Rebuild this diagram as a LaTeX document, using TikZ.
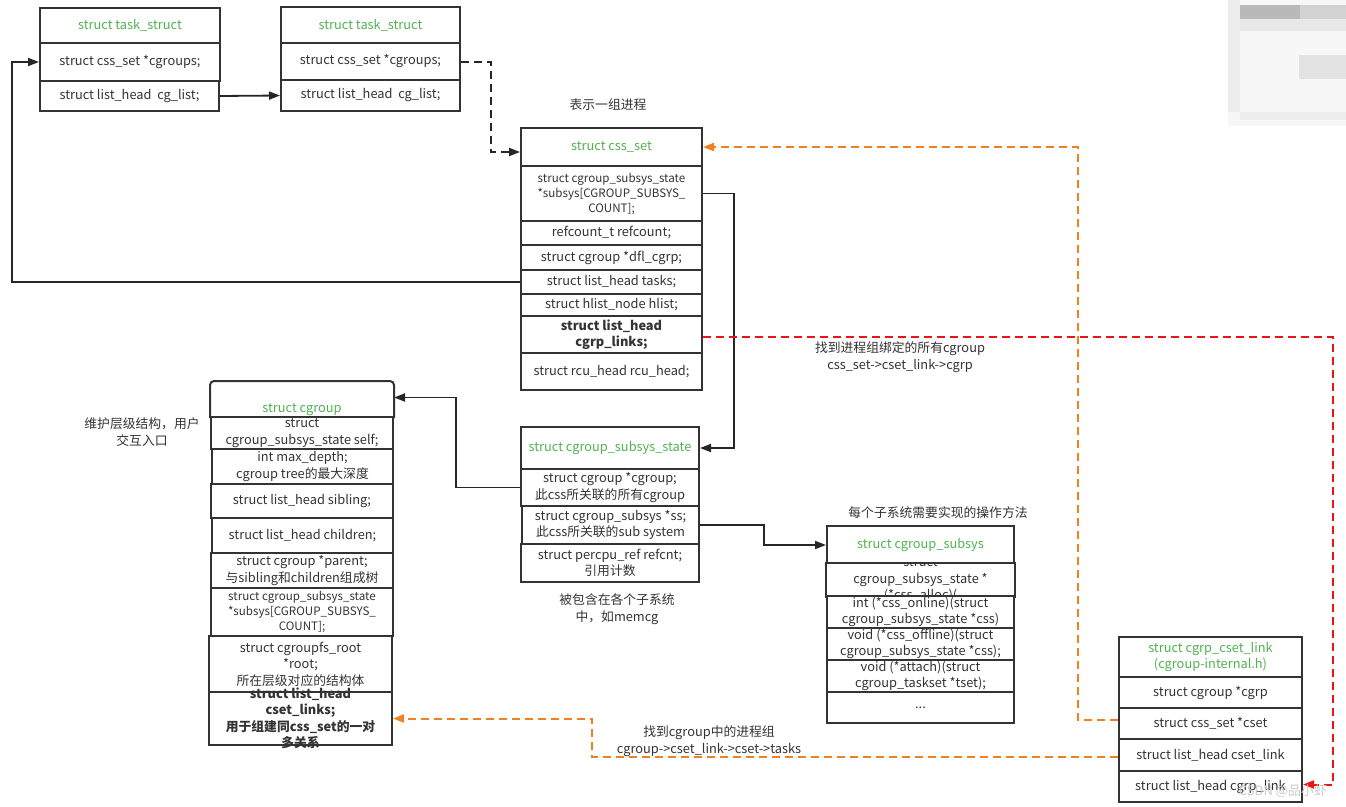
\documentclass[tikz,border=0pt]{standalone}
\usepackage{fontspec}
\setmainfont{Noto Sans CJK SC}
\usetikzlibrary{arrows.meta}
\definecolor{ink}{RGB}{51,51,51}
\definecolor{tgreen}{RGB}{82,178,82}
\definecolor{torange}{RGB}{240,128,32}
\definecolor{tred}{RGB}{235,20,20}
\tikzset{
  cellst/.style={draw=ink, line width=2pt, fill=white, inner sep=0pt},
  celltxt/.style={text=ink, align=center, inner sep=0pt, font=\fontsize{12.8pt}{16.5pt}\selectfont},
  titletxt/.style={celltxt, text=tgreen},
  note/.style={text=ink, align=center, inner sep=0pt, font=\fontsize{12.8pt}{16.5pt}\selectfont},
  tip/.style={-{Triangle[length=11pt,width=8pt]}},
  conn/.style={draw=black!85, line width=1.8pt, tip},
  dconn/.style={conn, line width=2pt, dash pattern=on 8pt off 5pt},
  oconn/.style={draw=torange, line width=2pt, dash pattern=on 8pt off 5pt, tip},
  rconn/.style={draw=tred, line width=2pt, dash pattern=on 8pt off 5pt, tip},
}
\newcommand{\cellbox}[7][]{%
  \node[cellst, minimum width={(#5-#3)*1pt}, minimum height={(#6-#4)*1pt}] (#2) at ({(#3+#5)/2},{(#4+#6)/2}) {};
  \node[celltxt,#1] (#2-t) at (#2.center) {#7};}
\begin{document}
\begin{tikzpicture}[x=1pt,y=-1pt]
\useasboundingbox (0,0) rectangle (1346,806);
\fill[white] (0,0) rectangle (1346,806);
% blurred image remnant (top right)
\fill[gray!6] (1228,0) rectangle (1346,126);
\fill[gray!14] (1228,0) rectangle (1240,112);
\fill[gray!55] (1240,5) rectangle (1300,19);
\fill[gray!35] (1300,5) rectangle (1346,22);
\fill[gray!18] (1240,19) rectangle (1346,31);
\fill[gray!22] (1299,55) rectangle (1346,79);
\fill[gray!14] (1240,112) rectangle (1346,120);

% task_struct 1
\cellbox[text=tgreen]{t1hdr}{40}{8}{220}{43}{struct task\_struct}
\cellbox{t1cgr}{40}{43}{220}{81}{struct css\_set *cgroups;}
\cellbox{t1cg}{40}{81}{219}{111}{struct list\_head\ \ cg\_list;}
% task_struct 2
\cellbox[text=tgreen]{t2hdr}{281}{7}{460}{43}{struct task\_struct}
\cellbox{t2cgr}{281}{43}{460}{80}{struct css\_set *cgroups;}
\cellbox{t2cg}{281}{80}{460}{111}{struct list\_head\ \ cg\_list;}

% css_set
\node[note] (n1) at (608,105) {表示一组进程};
\cellbox[text=tgreen]{csshdr}{521}{128}{702}{166}{struct css\_set}
\cellbox[font=\fontsize{11.6pt}{15pt}\selectfont]{csssub}{521}{166}{702}{221}{struct cgroup\_subsys\_state\\*subsys[CGROUP\_SUBSYS\_\\COUNT];}
\cellbox{cssref}{521}{221}{702}{245}{refcount\_t refcount;}
\cellbox{cssdfl}{521}{245}{702}{270}{struct cgroup *dfl\_cgrp;}
\cellbox{csstasks}{521}{270}{702}{294}{struct list\_head tasks;}
\cellbox{csshlist}{521}{294}{702}{316}{struct hlist\_node hlist;}
\cellbox[font=\fontsize{12.8pt}{16.5pt}\selectfont\bfseries]{csslinks}{521}{316}{702}{353}{struct list\_head\\cgrp\_links;}
\cellbox{cssrcu}{521}{353}{702}{390}{struct rcu\_head rcu\_head;}

% cgroup
\node[note] (n3) at (142,432) {维护层级结构，用户\\交互入口};
\node[cellst, draw=none, minimum width=182pt, minimum height=35pt] (cghdr) at (302,399.5) {};
\draw[draw=ink, line width=2pt, rounded corners=4pt] (cghdr.south west) -- (cghdr.north west) -- (cghdr.north east) -- (cghdr.south east);
\node[titletxt, anchor=south] (cghdr-t) at ([yshift=2pt]cghdr.south) {struct cgroup};
\cellbox{cgself}{211}{417}{393}{449}{struct\\cgroup\_subsys\_state self;}
\cellbox{cgdepth}{212}{449}{393}{484}{int max\_depth;\\cgroup tree的最大深度}
\cellbox{cgsib}{211}{484}{393}{518}{struct list\_head sibling;}
\cellbox{cgchild}{212}{518}{393}{553}{struct list\_head children;}
\cellbox{cgparent}{211}{553}{393}{588}{struct cgroup *parent;\\与sibling和children组成树}
\cellbox[font=\fontsize{11.6pt}{15pt}\selectfont]{cgsub}{211}{588}{393}{636}{struct cgroup\_subsys\_state\\*subsys[CGROUP\_SUBSYS\_\\COUNT];}
\cellbox{cgroot}{209}{636}{392}{692}{struct cgroupfs\_root\\*root;\\所在层级对应的结构体}
\cellbox[font=\fontsize{12.8pt}{16.5pt}\selectfont\bfseries]{cglinks}{209}{692}{392}{745}{struct list\_head\\cset\_links;\\用于组建同css\_set的一对\\多关系}

% cgroup_subsys_state
\cellbox[text=tgreen]{cssthdr}{521}{427}{699}{469}{struct cgroup\_subsys\_state}
\cellbox{csstcg}{521}{469}{699}{506}{struct cgroup *cgroup;\\此css所关联的所有cgroup}
\cellbox{csstss}{522}{506}{699}{544}{struct cgroup\_subsys *ss;\\此css所关联的sub system}
\cellbox{csstref}{521}{544}{699}{582}{struct percpu\_ref refcnt;\\引用计数}
\node[note] (n4) at (617,609) {被包含在各个子系统\\中，如memcg};

% cgroup_subsys
\node[note] (n5) at (938,513) {每个子系统需要实现的操作方法};
\cellbox[text=tgreen]{subshdr}{827}{526}{1014}{564}{struct cgroup\_subsys}
\node[cellst, draw=none, minimum width=187pt, minimum height=32pt] (subs1) at (920.5,580) {};
\begin{scope}
\clip (subs1.south west) rectangle (subs1.north east);
\node[celltxt] (subs1-t) at (subs1.center) {struct\\cgroup\_subsys\_state *\\(*css\_alloc)(};
\end{scope}
\draw[draw=ink, line width=2pt] (subs1.south west) rectangle (subs1.north east);
\cellbox{subs2}{827}{596}{1014}{628}{int (*css\_online)(struct\\cgroup\_subsys\_state *css)}
\cellbox{subs3}{827}{628}{1014}{660}{void (*css\_offline)(struct\\cgroup\_subsys\_state *css);}
\cellbox{subs4}{827}{660}{1014}{692}{void (*attach)(struct\\cgroup\_taskset *tset);}
\cellbox{subs5}{827}{692}{1014}{723}{...}

% cgrp_cset_link
\cellbox[text=tgreen]{clhdr}{1119}{637}{1302}{677}{struct cgrp\_cset\_link\\(cgroup-internal.h)}
\cellbox{clcgrp}{1119}{677}{1302}{708}{struct cgroup *cgrp}
\cellbox{clcset}{1119}{708}{1302}{739}{struct css\_set *cset}
\cellbox{clcsetlink}{1119}{739}{1302}{771}{struct list\_head cset\_link}
\cellbox{cllast}{1119}{771}{1302}{802}{struct list\_head cgrp\_link}

% notes on connectors
\node[note] (n2) at (900,357) {找到进程组绑定的所有cgroup\\css\_set->cset\_link->cgrp};
\node[note] (n6) at (709,741) {找到cgroup中的进程组\\cgroup->cset\_link->cset->tasks};

% connectors
\coordinate (bendA) at (12,62);
\draw[conn] (t1cg.east) -- (t2cg.west);
\draw[dconn] (t2cgr.east) -- ++(30,0) |- ([yshift=-5pt]csshdr.west);
\draw[conn] (csstasks.west) -| (bendA) -- (t1cgr.west);
\draw[conn] (csssub.east) -- ++(31,0) |- (cssthdr.east);
\draw[rconn] ([yshift=-2pt]csslinks.east) -- ++(630,0) |- ([yshift=2pt]cllast.east);
\draw[oconn] ([yshift=4pt]clcset.west) -- ++(-40,0) |- (csshdr.east);
\draw[oconn] ([yshift=-2pt]clcsetlink.west) -- ++(-526,0) |- (cglinks.east);
\draw[conn] (csstcg.west) -- ++(-64,0) |- ([yshift=2pt]cghdr.east);
\draw[conn] (csstss.east) -- ++(64,0) |- (subshdr.west);

% watermark
\node[text=gray!40, inner sep=0pt, font=\fontsize{13pt}{14pt}\selectfont] (wm) at (1283,791) {CSDN @品小虾};
\end{tikzpicture}
\end{document}
